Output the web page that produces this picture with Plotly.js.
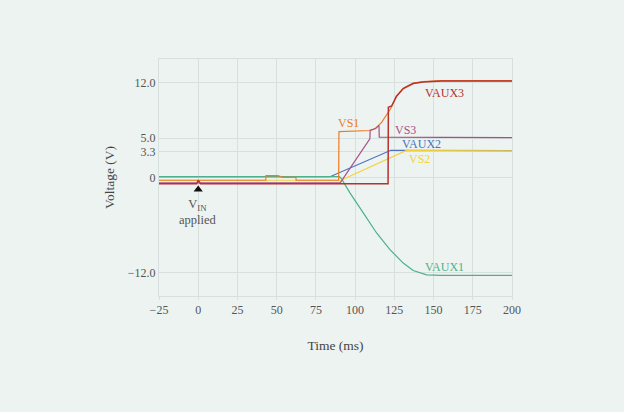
<!DOCTYPE html>
<html>
<head>
<meta charset="utf-8">
<script src="https://cdn.plot.ly/plotly-3.0.1.min.js"></script>
<style>html,body{margin:0;padding:0;background:#ecf3f1;}#chart{width:624px;height:412px;}</style>
</head>
<body>
<div id="chart"></div>
<script>
// Time axis (ms) and voltages (V)
const vaux1T = [-25, 90, 91.4, 96.7, 105.2, 113.7, 122.2, 130.7, 137, 145.6, 155, 200];
const vaux1V = [0.1, 0.1, -0.17, -1.94, -4.48, -7.02, -9.14, -10.83, -11.77, -12.32, -12.4, -12.4];

const vaux2T = [-25, 84, 122.8, 200];
const vaux2V = [0.1, 0.1, 3.45, 3.4];

const vs2T = [-25, 91, 132.4, 200];
const vs2V = [-0.35, -0.35, 3.4, 3.38];

const vs1T = [-25, 43.1, 43.2, 50.8, 54, 62.3, 62.4, 89.5, 89.7, 105, 110, 113, 115, 117, 122.6, 126.4, 130.7, 137, 143.4, 155, 200];
const vs1V = [-0.35, -0.35, 0.25, 0.25, 0.02, 0.02, -0.35, -0.35, 5.8, 5.85, 5.95, 6.2, 6.6, 7.0, 8.7, 10.3, 11.3, 11.95, 12.15, 12.25, 12.25];

const vs3T = [-25, 90.5, 109.4, 109.6, 113, 115.2, 115.4, 200];
const vs3V = [-0.67, -0.67, 4.9, 6.0, 6.2, 6.6, 5.1, 5.05];

const vaux3T = [-25, -1, 0, 1.5, 121.0, 121.2, 123.3, 126.4, 130.7, 137.0, 143.4, 155, 200];
const vaux3V = [-0.8, -0.8, -0.35, -0.8, -0.8, 8.9, 9.05, 10.3, 11.26, 11.9, 12.1, 12.2, 12.2];

const yTickVals = [-12, 0, 3.3, 5, 12];
const yTickText = ['\u221212.0', '0', '3.3', '5.0', '12.0'];
const xTickVals = [-25, 0, 25, 50, 75, 100, 125, 150, 175, 200];

const seriesNames = ['VAUX2', 'VAUX1', 'VS2', 'VS1', 'VS3', 'VAUX3'];
const colors = {VAUX1: '#4fb08c', VAUX2: '#4a72c0', VS2: '#f5d23c', VS1: '#f07c22', VS3: '#a9508a', VAUX3: '#b8312f'};
const widths = {VAUX1: 1.2, VAUX2: 1.2, VS2: 1.2, VS1: 1.2, VS3: 1.2, VAUX3: 1.5};
const data = {
  VAUX1: [vaux1T, vaux1V], VAUX2: [vaux2T, vaux2V], VS2: [vs2T, vs2V],
  VS1: [vs1T, vs1V], VS3: [vs3T, vs3V], VAUX3: [vaux3T, vaux3V]
};
// label anchor positions (time, voltage)
const labelT = {VAUX3: 157.2, VS3: 132.4, VAUX2: 142.6, VS2: 141.1, VS1: 95.6, VAUX1: 157};
const labelV = {VAUX3: 10.75, VS3: 6.0, VAUX2: 4.28, VS2: 2.37, VS1: 6.95, VAUX1: -11.34};

const traces = seriesNames.map(n => ({
  x: data[n][0], y: data[n][1], type: 'scatter', mode: 'lines', name: n,
  line: {color: colors[n], width: widths[n]}, hoverinfo: 'skip'
}));
traces.push({
  x: [0], y: [-1.52], type: 'scatter', mode: 'markers',
  marker: {symbol: 'triangle-up', size: 8, color: '#111'}, hoverinfo: 'skip'
});

const serif = 'Liberation Serif, Times New Roman, serif';
const annotations = seriesNames.map(n => ({
  x: labelT[n], y: labelV[n], text: n, showarrow: false,
  font: {family: serif, size: 12, color: colors[n]}, xanchor: 'center', yanchor: 'middle'
}));
annotations.push({
  x: 0, y: -2.2, text: 'V<sub>IN</sub><br>applied', showarrow: false,
  font: {family: serif, size: 12.5, color: '#555'}, xanchor: 'center', yanchor: 'top'
});

const layout = {
  width: 624, height: 412,
  margin: {l: 159, r: 112, t: 59, b: 116},
  paper_bgcolor: '#ecf3f1', plot_bgcolor: '#ecf3f1',
  showlegend: false,
  font: {family: serif, size: 12, color: '#555'},
  xaxis: {
    range: [-25, 200], tickvals: xTickVals, zeroline: false,
    showgrid: true, gridcolor: '#d8e0df', gridwidth: 1,
    showline: true, mirror: true, linecolor: '#d8e0df', linewidth: 1,
    ticks: 'outside', ticklen: 3, tickcolor: '#d8e0df',
    title: {text: 'Time (ms)', font: {family: serif, size: 13.5, color: '#444'}, standoff: 24},
    fixedrange: true
  },
  yaxis: {
    range: [-15, 15], tickvals: yTickVals, ticktext: yTickText, zeroline: false,
    showgrid: true, gridcolor: '#d8e0df', gridwidth: 1,
    showline: true, mirror: true, linecolor: '#d8e0df', linewidth: 1,
    ticks: '', ticklen: 0,
    title: {text: 'Voltage (V)', font: {family: serif, size: 13.5, color: '#444'}, standoff: 10},
    fixedrange: true
  },
  annotations: annotations
};

Plotly.newPlot('chart', traces, layout, {displayModeBar: false, staticPlot: true});
</script>
</body>
</html>
